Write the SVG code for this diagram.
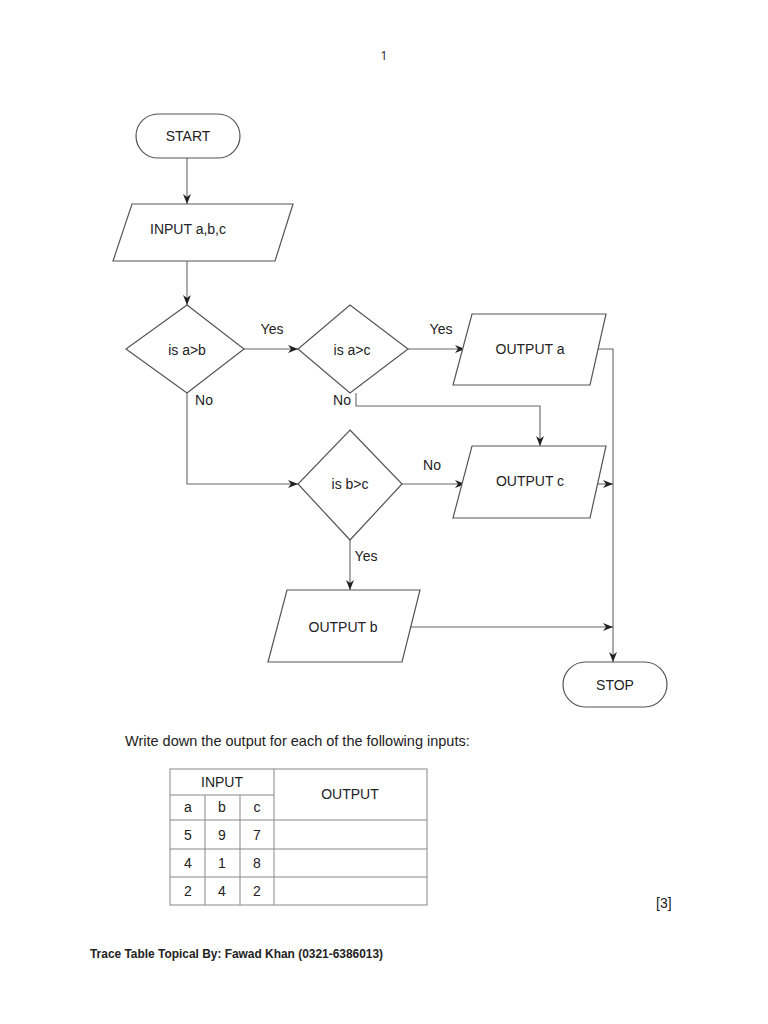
<svg xmlns="http://www.w3.org/2000/svg" width="768" height="1024" viewBox="0 0 768 1024">
<style>
.s{fill:#fff;stroke:#555;stroke-width:1.2}
.c{fill:none;stroke:#666;stroke-width:1.1}
text{font-family:"Liberation Sans",Arial,sans-serif;font-size:14px;fill:#222}
.m{text-anchor:middle}
.g{stroke:#888;stroke-width:1;fill:none}
</style>
<defs><marker id="a" viewBox="0 0 10 8" refX="10" refY="4" markerWidth="10" markerHeight="8" orient="auto" markerUnits="userSpaceOnUse"><path d="M0,0L10,4L0,8L3,4Z" fill="#222"/></marker></defs>
<rect width="768" height="1024" fill="#fff"/>
<text x="384" y="60" class="m" style="font-family:'Open Sans',sans-serif;font-size:12px">1</text>
<g id="connectors">
<path class="c" d="M187,158V204" marker-end="url(#a)"/>
<path class="c" d="M187,261V305" marker-end="url(#a)"/>
<path class="c" d="M244,349H298" marker-end="url(#a)"/>
<path class="c" d="M408,349H465" marker-end="url(#a)"/>
<path class="c" d="M596,349H613V662" marker-end="url(#a)"/>
<path class="c" d="M356,393V406H540V446" marker-end="url(#a)"/>
<path class="c" d="M187,393V484H298" marker-end="url(#a)"/>
<path class="c" d="M402,484H465" marker-end="url(#a)"/>
<path class="c" d="M596,484H613" marker-end="url(#a)"/>
<path class="c" d="M350,540V590" marker-end="url(#a)"/>
<path class="c" d="M404,627H613" marker-end="url(#a)"/>
<text x="272" y="334" class="m">Yes</text>
<text x="441" y="334" class="m">Yes</text>
<text x="204" y="405" class="m">No</text>
<text x="342" y="405" class="m">No</text>
<text x="432" y="470" class="m">No</text>
<text x="366" y="561" class="m">Yes</text>
</g>
<g id="start"><rect class="s" x="136" y="114" width="104" height="44" rx="22"/><text x="188" y="141" class="m">START</text></g>
<g id="input"><path class="s" d="M132,204H293L275,261H113Z"/><text x="188" y="234" class="m">INPUT a,b,c</text></g>
<g id="isab"><path class="s" d="M187,305L244,349L187,393L126,349Z"/><text x="187" y="355" class="m">is a&gt;b</text></g>
<g id="isac"><path class="s" d="M350,305L408,349L350,393L298,349Z"/><text x="352" y="355" class="m">is a&gt;c</text></g>
<g id="outa"><path class="s" d="M472,314H606L590,385H453Z"/><text x="530" y="354" class="m">OUTPUT a</text></g>
<g id="isbc"><path class="s" d="M350,430L402,484L350,540L298,484Z"/><text x="350" y="489" class="m">is b&gt;c</text></g>
<g id="outc"><path class="s" d="M472,446H606L590,518H453Z"/><text x="530" y="486" class="m">OUTPUT c</text></g>
<g id="outb"><path class="s" d="M287,590H420L402,662H268Z"/><text x="343" y="632" class="m">OUTPUT b</text></g>
<g id="stop"><rect class="s" x="563" y="662" width="104" height="45" rx="22.5"/><text x="615" y="690" class="m">STOP</text></g>
<text x="125" y="746" style="font-size:14.5px">Write down the output for each of the following inputs:</text>
<g id="table">
<rect class="g" x="170" y="769" width="257" height="136"/>
<path class="g" d="M170,795H274M170,820H427M170,849H427M170,877H427M205,795V905M240,795V905M274,769V905"/>
<text x="222" y="787" class="m">INPUT</text>
<text x="350" y="799" class="m">OUTPUT</text>
<text x="188" y="812" class="m">a</text><text x="222" y="812" class="m">b</text><text x="257" y="812" class="m">c</text>
<text x="188" y="840" class="m">5</text><text x="222" y="840" class="m">9</text><text x="257" y="840" class="m">7</text>
<text x="188" y="868" class="m">4</text><text x="222" y="868" class="m">1</text><text x="257" y="868" class="m">8</text>
<text x="188" y="896" class="m">2</text><text x="222" y="896" class="m">4</text><text x="257" y="896" class="m">2</text>
</g>
<text x="656" y="908">[3]</text>
<text x="90" y="958" textLength="293" lengthAdjust="spacingAndGlyphs" style="font-weight:bold;font-size:13px">Trace Table Topical By: Fawad Khan (0321-6386013)</text>
</svg>
